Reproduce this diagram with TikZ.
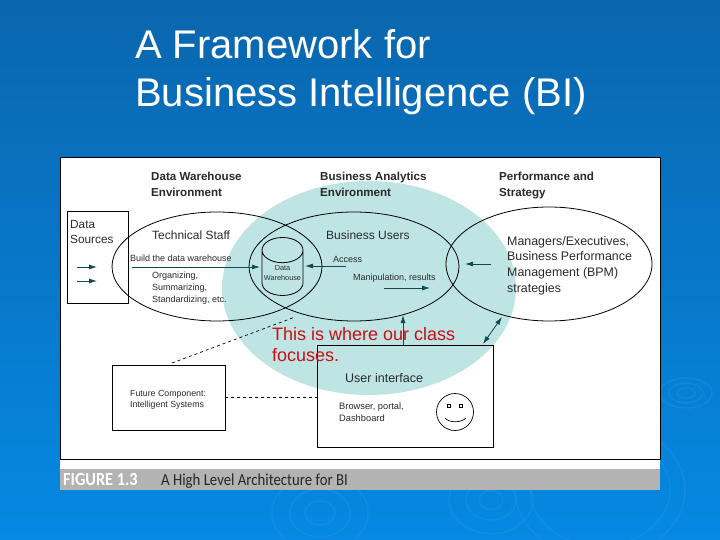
\documentclass[tikz,border=0pt]{standalone}
\usepackage{fontspec}
\setmainfont{Liberation Sans}
\newfontfamily\capfont[FakeStretch=0.88]{Carlito}
\usetikzlibrary{shapes.geometric,arrows.meta}
\definecolor{slidetop}{HTML}{0A66AE}
\definecolor{slidebot}{HTML}{0589E3}
\definecolor{ripple}{HTML}{2A98E0}
\definecolor{analytics}{HTML}{BEE4E4}
\definecolor{darkteal}{HTML}{0F4A4C}
\definecolor{labelgrey}{HTML}{2A2A2A}
\definecolor{capgrey}{HTML}{B3B3B3}
\definecolor{classred}{HTML}{C80F14}
\tikzset{
  envellipse/.style={draw=black,ellipse,inner sep=0pt,outer sep=0pt,line width=0.8pt},
  framebox/.style={draw=black,rectangle,inner sep=0pt,outer sep=0pt,line width=0.8pt},
  headlabel/.style={anchor=north west,inner sep=0pt,align=left,font=\fontsize{11.6}{16}\selectfont\bfseries,text=labelgrey},
  biglabel/.style={anchor=north west,inner sep=0pt,align=left,font=\fontsize{12}{15.7}\selectfont,text=labelgrey},
  smalllabel/.style={anchor=north west,inner sep=0pt,align=left,font=\fontsize{9}{12}\selectfont,text=labelgrey},
  flowarrow/.style={draw=darkteal,line width=0.8pt,-{Latex[length=8pt,width=5pt]}},
  dashlink/.style={draw=black,dashed,line width=0.7pt},
  ripplering/.style={draw=ripple,line width=1.5pt,opacity=0.35},
}
\begin{document}
\begin{tikzpicture}[x=1pt,y=-1pt]
  \useasboundingbox (0,0) rectangle (720,540);
  \shade[top color=slidetop,bottom color=slidebot] (0,0) rectangle (720,540);
  \clip (0,0) rectangle (720,540);
  % ripples
  \foreach \r in {9,17,26} \draw[ripplering] (686,393) ellipse ({\r} and {0.58*\r});
  \foreach \r in {15,30,48} \draw[ripplering] (320,513) ellipse ({\r} and {0.8*\r});
  \foreach \r in {12,25,42} \draw[ripplering] (491,500) ellipse ({\r} and {0.8*\r});
  \foreach \r in {70,85} \draw[ripplering] (600,490) ellipse ({\r} and {0.8*\r});

  \node[anchor=north west,inner sep=0pt,align=left,text=white,font=\fontsize{40}{48}\selectfont] (title) at (135,29) {A Framework for\\Business Intelligence (BI)};

  \fill[white] (60,459) rectangle (660,469);
  \draw[draw=black,fill=white,line width=1pt] (60,158) rectangle (660,459);
  \fill[capgrey] (60,469) rectangle (660,490);
  \node[anchor=base west,inner sep=0pt,text=white,font=\capfont\bfseries\fontsize{18.5}{18}\selectfont] (figno) at (63,485) {FIGURE 1.3};
  \node[anchor=base west,inner sep=0pt,text=black!85,font=\capfont\fontsize{16.8}{18}\selectfont] (figcap) at (161,485) {A High Level Architecture for BI};

  \node[fill=analytics,ellipse,inner sep=0pt,minimum width=294,minimum height=214] (analyticsarea) at (369,288) {};
  \node[envellipse,minimum width=210,minimum height=109] (dwenv) at (217,266.5) {};
  \node[envellipse,minimum width=210,minimum height=109] (bizenv) at (354,266.5) {};
  \node[envellipse,minimum width=206,minimum height=114] (perfenv) at (549,264) {};

  \node[framebox,minimum width=61,minimum height=92] (sources) at (97.5,257) {};
  \node[framebox,minimum width=113,minimum height=65] (future) at (168.5,397.5) {};
  \node[framebox,minimum width=176,minimum height=102] (ui) at (405,396) {};
  \node[draw=black,cylinder,shape border rotate=90,shape aspect=0.68,inner sep=0pt,outer sep=0pt,line width=0.8pt,minimum width=41,minimum height=58,font=\fontsize{7.3}{10}\selectfont,align=center,text=labelgrey] (dw) at (282.5,273) {Data\\Warehouse};

  \node[headlabel] (dwhead) at (151,172) {Data Warehouse\\Environment};
  \node[headlabel] (bahead) at (320,172) {Business Analytics\\Environment};
  \node[headlabel] (perfhead) at (499,172) {Performance and\\Strategy};
  \node[biglabel,font=\fontsize{11.8}{15}\selectfont] (srclabel) at (70,220) {Data\\Sources};
  \node[biglabel] (staff) at (152,231) {Technical Staff};
  \node[biglabel] (users) at (326,231) {Business Users};
  \node[smalllabel] (build) at (130,255) {Build the data warehouse};
  \node[smalllabel] (organize) at (152,272) {Organizing,\\Summarizing,\\Standardizing, etc.};
  \node[smalllabel] (access) at (333,256) {Access};
  \node[smalllabel] (manip) at (353,274) {Manipulation, results};
  \node[biglabel,font=\fontsize{12.4}{15.7}\selectfont] (managers) at (507,236) {Managers/Executives,\\Business Performance\\Management (BPM)\\strategies};
  \node[smalllabel,font=\fontsize{8.8}{11}\selectfont] (futlabel) at (130,390) {Future Component:\\Intelligent Systems};
  \node[biglabel,font=\fontsize{12.5}{16}\selectfont] (uilabel) at (345,373) {User interface};
  \node[smalllabel,font=\fontsize{9.3}{12}\selectfont] (browser) at (339,403) {Browser, portal,\\Dashboard};

  % smiley
  \node[draw=black,circle,inner sep=0pt,outer sep=0pt,minimum size=37,line width=0.7pt] (face) at (455,412) {};
  \node[draw=black,rectangle,inner sep=0pt,minimum size=3,line width=0.6pt] (lefteye) at (449,406) {};
  \node[draw=black,rectangle,inner sep=0pt,minimum size=3,line width=0.6pt] (righteye) at (461,406) {};
  \coordinate (smilea) at (445,418);
  \coordinate (smileb) at (466,418);
  \draw[line width=0.7pt] (smilea) .. controls (449,423) and (461,423) .. (smileb);

  \coordinate (srca) at (77,267);
  \coordinate (srcb) at (97,267);
  \coordinate (srcc) at (77,281);
  \coordinate (srcd) at (97,281);
  \coordinate (buildstart) at (132,267);
  \coordinate (accessstart) at (346,266);
  \coordinate (maniphead) at (384,288);
  \coordinate (maniptip) at (430,288);
  \coordinate (perfstart) at (491,264);
  \coordinate (perftip) at (465,264);
  \coordinate (uiup) at (403,345);
  \coordinate (bizlow) at (403,315);
  \coordinate (uiright) at (483,344);
  \coordinate (perflow) at (502,317);
  \coordinate (futuretop) at (172,363);
  \coordinate (dwlow) at (295,317);

  \draw[flowarrow] (srca) -- (srcb);
  \draw[flowarrow] (srcc) -- (srcd);
  \draw[flowarrow,shorten >=2pt] (buildstart) -- (dw.west |- buildstart);
  \draw[flowarrow,shorten >=2pt] (accessstart) -- (dw.east |- accessstart);
  \draw[flowarrow] (maniphead) -- (maniptip);
  \draw[flowarrow] (perfstart) -- (perftip);
  \draw[flowarrow] (uiup) -- (bizlow);
  \draw[flowarrow,{Latex[length=8pt,width=5pt]}-{Latex[length=8pt,width=5pt]}] (uiright) -- (perflow);
  \draw[dashlink] (future.east) -- (ui.west |- future.east);
  \draw[dashlink] (futuretop) -- (dwlow);

  \node[anchor=north west,inner sep=0pt,align=left,text=classred,font=\fontsize{18}{21}\selectfont] (classnote) at (272,327) {This is where our class\\focuses.};
\end{tikzpicture}
\end{document}
